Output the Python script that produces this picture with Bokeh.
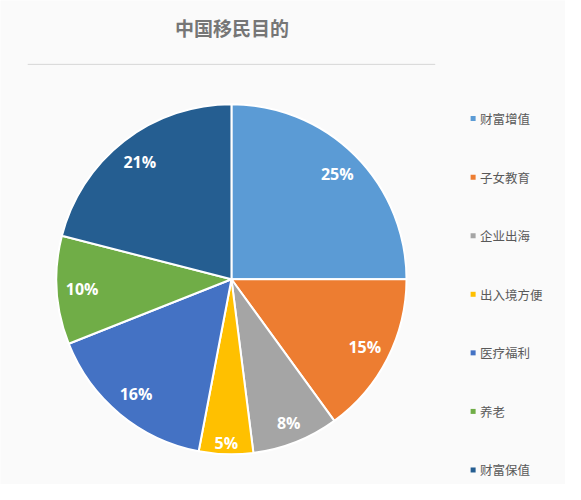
import math
from bokeh.plotting import figure
from bokeh.models import Range1d
from bokeh.core.properties import value
from bokeh.embed import file_html
from bokeh.resources import INLINE

title_text = "中国移民目的"
categories = ["财富增值", "子女教育", "企业出海", "出入境方便", "医疗福利", "养老", "财富保值"]
percents = [25, 15, 8, 5, 16, 10, 21]
colors = ["#5B9BD5", "#ED7D31", "#A5A5A5", "#FFC000", "#4472C4", "#70AD47", "#255E91"]

W, H = 565, 484          # figure size in pixels (fits the 581x500 window with 8px margin)
RW, RH = 581, 500        # reference frame (data units)
BG = "#fafafa"

p = figure(width=W, height=H, output_backend="svg", toolbar_location=None,
           x_range=Range1d(0, RW), y_range=Range1d(0, RH), min_border=0,
           background_fill_color=BG, border_fill_color=BG)
p.axis.visible = False
p.grid.visible = False
p.outline_line_color = None

def sy(y):
    return RH - y

cx, cy, R = 237.5, sy(288), 180
total = sum(percents)

starts, ends, mids = [], [], []
cum = 0.0
for v in percents:
    a0 = math.pi / 2 - 2 * math.pi * cum / total
    cum += v
    a1 = math.pi / 2 - 2 * math.pi * cum / total
    starts.append(a0)
    ends.append(a1)
    mids.append((a0 + a1) / 2)

p.wedge(x=[cx] * len(percents), y=[cy] * len(percents), radius=R,
        start_angle=starts, end_angle=ends, direction="clock",
        fill_color=colors, line_color="white", line_width=2)

# percentage labels (pushed outward a little for narrow slices)
lx, ly, lt = [], [], []
for v, m in zip(percents, mids):
    frac = v / total
    rl = R * (0.855 + max(0.0, 0.1 - frac) * 1.7)
    lx.append(cx + rl * math.cos(m))
    ly.append(cy + rl * math.sin(m))
    lt.append(f"{v}%")
p.text(x=lx, y=ly, text=lt, text_align="center", text_baseline="middle",
       text_color="white", text_font_size="16px", text_font_style="bold",
       text_font=value("Open Sans"))

# title and rule
p.text(x=[238], y=[sy(28)], text=[title_text], text_align="center",
       text_baseline="middle", text_color="#767676", text_font_size="19px",
       text_font_style="bold", text_font=value("Noto Sans CJK SC"))
p.line(x=[28, 447], y=[sy(66), sy(66)], line_color="#d6d6d6", line_width=1)

# legend
leg_x, leg_y0, leg_dy = 486, sy(122), 60.5
mx = [leg_x] * len(categories)
my = [leg_y0 - i * leg_dy for i in range(len(categories))]
p.scatter(x=mx, y=my, marker="square", size=5, fill_color=colors, line_color=None)
p.text(x=[leg_x + 7] * len(categories), y=my, text=categories, text_align="left",
       text_baseline="middle", text_color="#595959", text_font_size="12.5px",
       text_font=value("Noto Sans CJK SC"))

open("out.html", "w").write(file_html(p, INLINE))
